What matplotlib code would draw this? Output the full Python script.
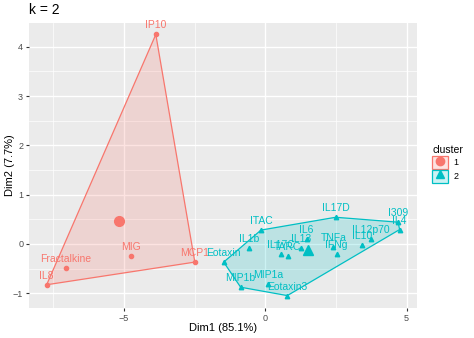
import numpy as np
import matplotlib.pyplot as plt
from matplotlib.patches import Patch, Polygon
from matplotlib.lines import Line2D
from matplotlib.colors import to_rgba

plt.rcParams['font.family'] = ['Liberation Sans', 'DejaVu Sans']

# PCA scores, cluster 1
c1_names = ['IP10', 'IL8', 'Fractalkine', 'MIG', 'MCP1']
c1_dim1 = [-3.87, -7.73, -7.05, -4.73, -2.49]
c1_dim2 = [4.25, -0.83, -0.49, -0.25, -0.37]

# PCA scores, cluster 2
c2_names = ['ITAC', 'IL17D', 'I309', 'IL4', 'IL1b', 'Eotaxin', 'MIP1b',
            'MIP1a', 'Eotaxin3', 'IL17C', 'TARC', 'IL6', 'IL13', 'TNFa',
            'IFNg', 'IL12p70', 'IL10']
c2_dim1 = [-0.15, 2.49, 4.70, 4.75, -0.56, -1.47, -0.87, 0.10, 0.78,
           0.55, 0.80, 1.46, 1.28, 2.41, 2.52, 3.75, 3.42]
c2_dim2 = [0.28, 0.54, 0.44, 0.29, -0.08, -0.37, -0.88, -0.81, -1.05,
           -0.20, -0.25, 0.10, -0.08, -0.07, -0.21, 0.10, -0.03]

x_ticks = [-5, 0, 5]
y_ticks = [-1, 0, 1, 2, 3, 4]


def convex_hull(pts):
    pts = sorted(set(pts))
    def cross(o, a, b):
        return (a[0] - o[0]) * (b[1] - o[1]) - (a[1] - o[1]) * (b[0] - o[0])
    lower, upper = [], []
    for p in pts:
        while len(lower) >= 2 and cross(lower[-2], lower[-1], p) <= 0:
            lower.pop()
        lower.append(p)
    for p in reversed(pts):
        while len(upper) >= 2 and cross(upper[-2], upper[-1], p) <= 0:
            upper.pop()
        upper.append(p)
    return lower[:-1] + upper[:-1]


fig = plt.figure(figsize=(4.74, 3.38), dpi=100)
ax = fig.add_axes([0.062, 0.089, 0.818, 0.844])
ax.set_facecolor('#EBEBEB')

clusters = [
    (c1_names, c1_dim1, c1_dim2, '#F8766D', 'o', 3.0),
    (c2_names, c2_dim1, c2_dim2, '#00BFC4', '^', 3.2),
]

for names, xs, ys, col, mk, ms in clusters:
    hull = convex_hull(list(zip(xs, ys)))
    ax.add_patch(Polygon(hull, closed=True, facecolor=to_rgba(col, 0.2),
                         edgecolor=col, linewidth=0.9, zorder=2))
    ax.plot(xs, ys, linestyle='none', marker=mk, color=col, markersize=ms, zorder=3)
    for n, x, y in zip(names, xs, ys):
        ax.annotate(n, (x, y), xytext=(0, 6.5), textcoords='offset points',
                    ha='center', va='center', color=col, fontsize=7.5, zorder=4)
    # cluster centre
    ax.plot(np.mean(xs), np.mean(ys), marker=mk, color=col, markersize=7, zorder=3)

ax.set_xlim(-8.34, 5.37)
ax.set_ylim(-1.30, 4.49)
ax.set_xticks(x_ticks)
ax.set_yticks(y_ticks)
ax.set_xticks([-7.5, -2.5, 2.5], minor=True)
ax.set_yticks([-0.5, 0.5, 1.5, 2.5, 3.5], minor=True)
ax.grid(True, which='major', color='white', linewidth=1.0)
ax.grid(True, which='minor', color='white', linewidth=0.5)
ax.set_axisbelow(True)
for s in ax.spines.values():
    s.set_visible(False)
ax.tick_params(which='major', length=2.5, width=0.8, color='#333333',
               labelsize=6.5, labelcolor='#4D4D4D', pad=2)
ax.tick_params(which='minor', length=0)

ax.set_xlabel('Dim1 (85.1%)', fontsize=8)
ax.set_ylabel('Dim2 (7.7%)', fontsize=8)
ax.xaxis.set_label_coords(0.5, -0.052)
ax.yaxis.set_label_coords(-0.036, 0.5)
ax.set_title('k = 2', loc='left', fontsize=10, pad=6)

handles = []
for names, xs, ys, col, mk, ms in clusters:
    box = Patch(facecolor=to_rgba(col, 0.2), edgecolor=col, linewidth=0.9)
    pt = Line2D([], [], linestyle='none', marker=mk, color=col, markersize=6)
    handles.append((box, pt))

leg = ax.legend(handles, ['1', '2'], title='cluster', loc='center left',
                bbox_to_anchor=(1.027, 0.505), frameon=False, fontsize=6.5,
                title_fontsize=7.5, handlelength=1.8, handleheight=1.8,
                handletextpad=0.6, labelspacing=0.1, borderpad=0)
leg._legend_box.align = 'left'

fig.savefig('out.png', dpi=100)
